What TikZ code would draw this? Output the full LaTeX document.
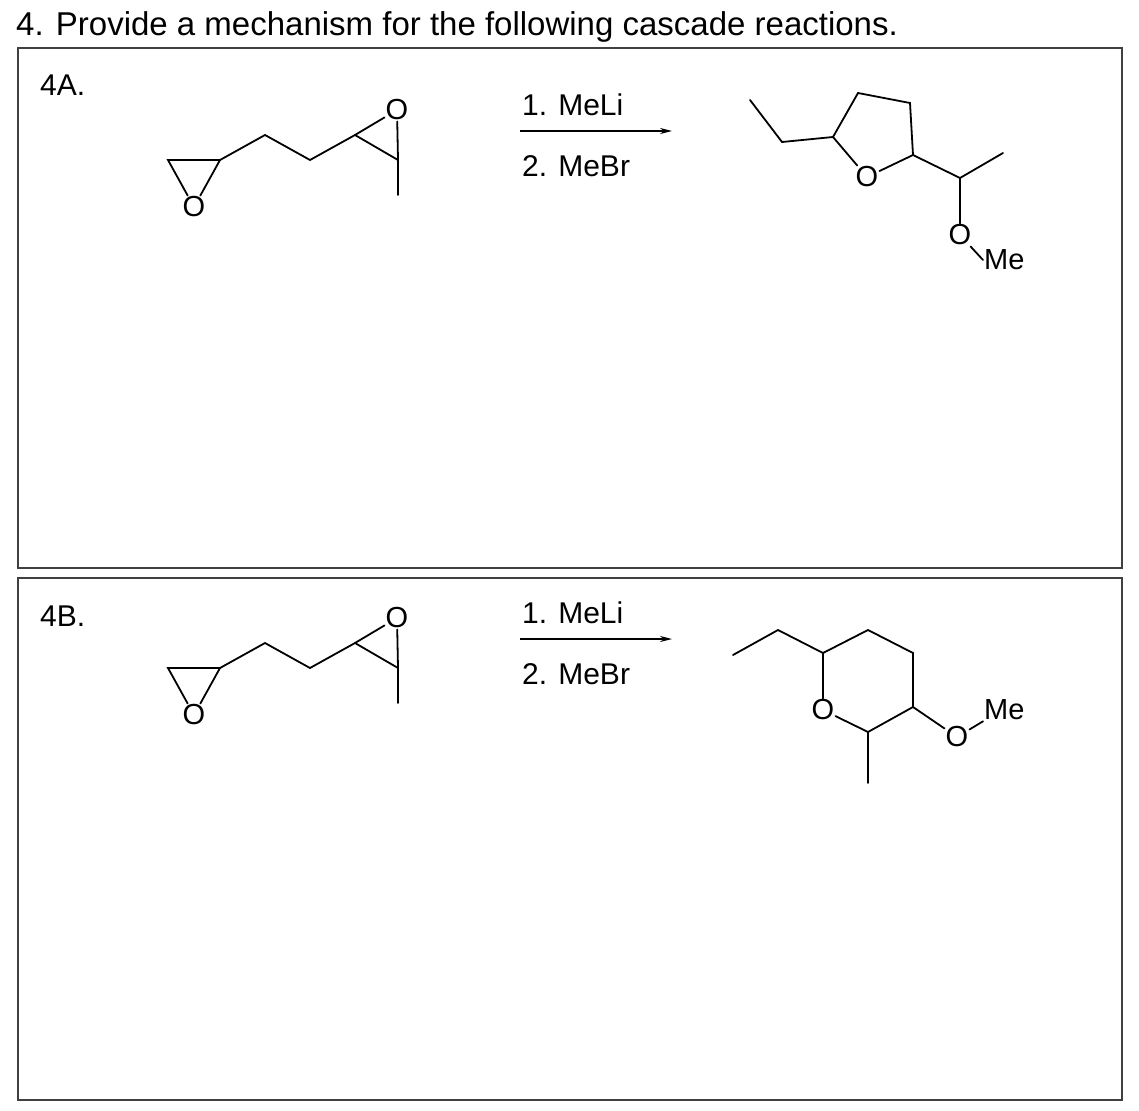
\documentclass[tikz,border=0pt]{standalone}
\usepackage{fontspec}
\usetikzlibrary{arrows.meta}
\setmainfont{Liberation Sans}
\tikzset{
  bond/.style={line width=1.8pt, line cap=round},
  atom/.style={inner sep=1pt, font=\fontsize{29}{29}\selectfont},
  lab/.style={anchor=west, inner sep=0pt, font=\fontsize{30}{30}\selectfont},
  panel/.style={draw=black!75, line width=1.4pt}
}
\begin{document}
\begin{tikzpicture}[x=1pt,y=-1pt]
\useasboundingbox (0,0) rectangle (1139,1110);
\node[anchor=west, inner sep=0pt, font=\fontsize{33}{33}\selectfont] (title) at (16,27) {4. Provide a mechanism for the following cascade reactions.};
\draw[panel] (18,48) rectangle (1122,568);
\draw[panel] (18,578) rectangle (1122,1100);
\node[lab] (la) at (40,85) {4A.};
\node[lab] (lb) at (40,616) {4B.};
% starting materials
\foreach \n/\dy in {a/0,b/508}{
  \begin{scope}[yshift=-\dy]
    \coordinate (\n c1) at (168,160);
    \coordinate (\n c2) at (220,160);
    \node[atom] (\n o1) at (194,207) {O};
    \coordinate (\n c3) at (265,135);
    \coordinate (\n c4) at (310,160);
    \coordinate (\n c5) at (355,135);
    \node[atom] (\n o2) at (397,110) {O};
    \coordinate (\n c6) at (398,160);
    \coordinate (\n c7) at (398,195);
    \draw[bond] (\n o1) -- (\n c1) -- (\n c2) -- (\n o1);
    \draw[bond] (\n c2) -- (\n c3) -- (\n c4) -- (\n c5) -- (\n c6) -- (\n c7);
    \draw[bond] (\n c5) -- (\n o2) -- (\n c6);
    \coordinate (\n a1) at (520,131);
    \coordinate (\n a2) at (672,131);
    \draw[line width=1.6pt, -{Stealth[length=12pt,width=6pt]}] (\n a1) -- (\n a2);
    \node[lab] (\n r1) at (522,105) {1. MeLi};
    \node[lab] (\n r2) at (522,166) {2. MeBr};
  \end{scope}
}
% product A
\coordinate (p1) at (750,100);
\coordinate (p2) at (782,142);
\coordinate (p3) at (833,137);
\coordinate (p4) at (858,93);
\coordinate (p5) at (910,103);
\coordinate (p6) at (913,155);
\node[atom] (po) at (867,177) {O};
\coordinate (p7) at (960,178);
\coordinate (p8) at (1003,153);
\node[atom] (po2) at (960,235) {O};
\node[atom, anchor=west] (pme) at (983,260) {Me};
\draw[bond] (p1) -- (p2) -- (p3) -- (p4) -- (p5) -- (p6) -- (po) -- (p3);
\draw[bond] (p6) -- (p7) -- (p8);
\draw[bond] (p7) -- (po2) -- (pme.west);
% product B
\coordinate (q1) at (733,655);
\coordinate (q2) at (778,630);
\coordinate (q3) at (823,653);
\coordinate (q4) at (868,630);
\coordinate (q5) at (913,653);
\coordinate (q6) at (913,707);
\coordinate (q7) at (868,732);
\node[atom] (qo) at (823,710) {O};
\coordinate (q8) at (868,783);
\node[atom] (qo2) at (957,737) {O};
\node[atom, anchor=west] (qme) at (983,710) {Me};
\draw[bond] (q1) -- (q2) -- (q3) -- (q4) -- (q5) -- (q6) -- (q7) -- (qo) -- (q3);
\draw[bond] (q7) -- (q8);
\draw[bond] (q6) -- (qo2) -- (qme.south west);
\end{tikzpicture}
\end{document}
